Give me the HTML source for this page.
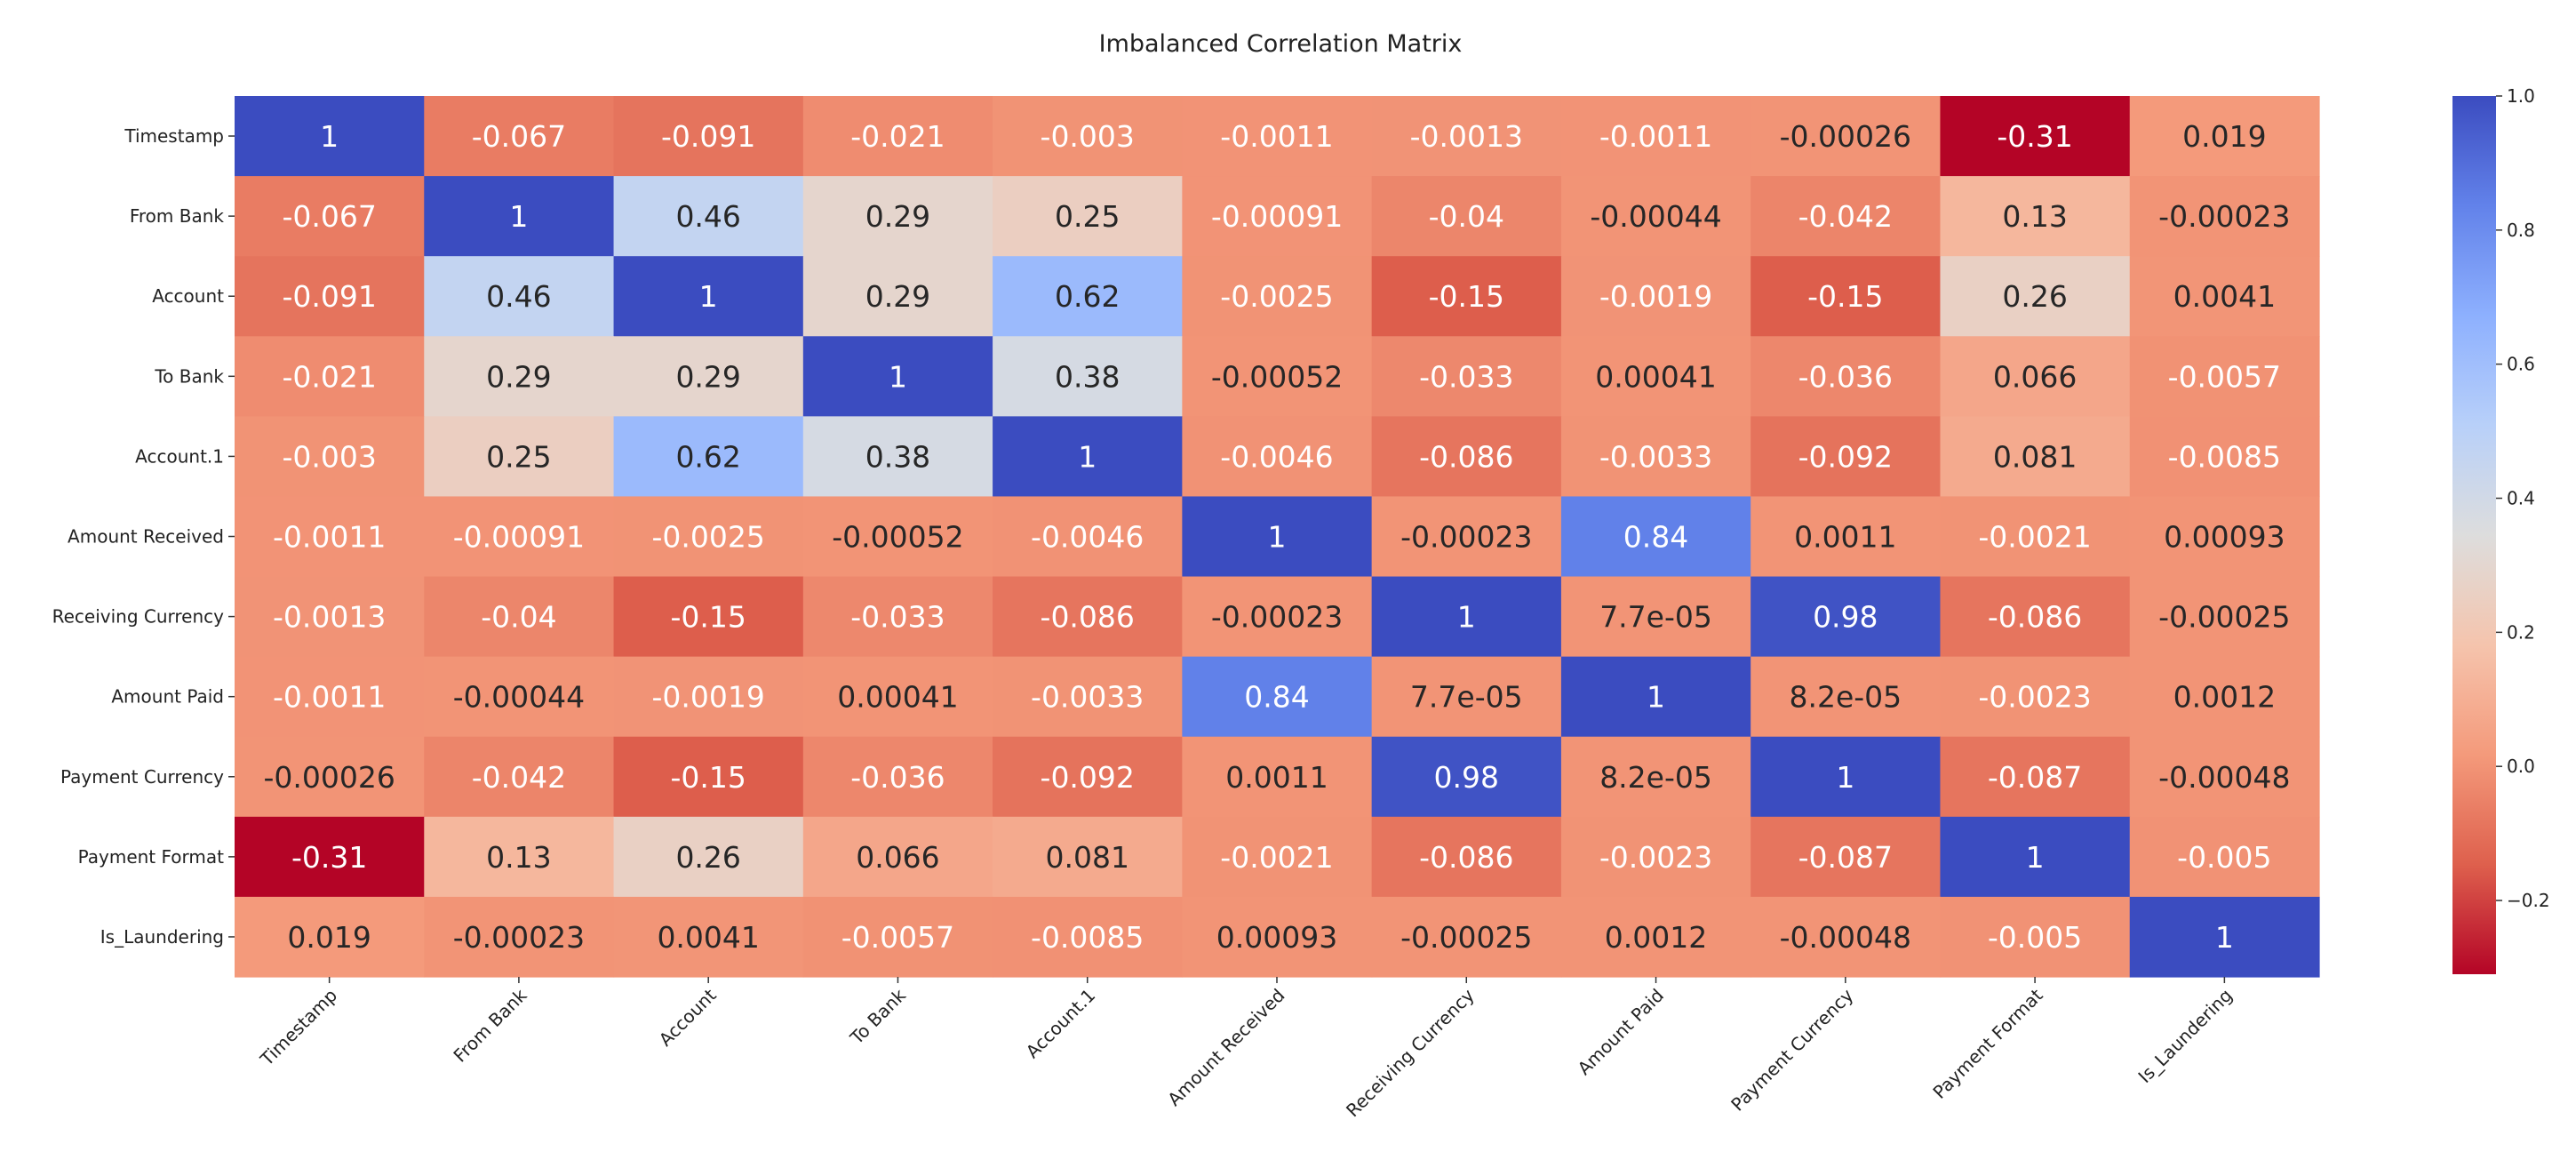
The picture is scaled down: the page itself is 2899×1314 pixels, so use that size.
<!DOCTYPE html>
<html><head><meta charset="utf-8"><style>
html,body{margin:0;padding:0;background:#fff;}
svg{display:block;font-family:"DejaVu Sans","Liberation Sans",sans-serif;}
</style></head><body>
<svg id="chart" width="2899" height="1314" viewBox="0 0 2899 1314">
<text x="1441" y="58" text-anchor="middle" font-size="27" fill="#222">Imbalanced Correlation Matrix</text>
<g id="cells"></g>
<g id="ylabels"></g>
<g id="xlabels"></g>
<defs><linearGradient id="cbgrad" x1="0" y1="1" x2="0" y2="0"></linearGradient></defs>
<rect id="cbar"></rect>
<g id="cbticks"></g>
</svg>
<script>
const categories = ["Timestamp","From Bank","Account","To Bank","Account.1","Amount Received","Receiving Currency","Amount Paid","Payment Currency","Payment Format","Is_Laundering"];
const row0 = [1,-0.067,-0.091,-0.021,-0.003,-0.0011,-0.0013,-0.0011,-0.00026,-0.31,0.019];
const row1 = [-0.067,1,0.46,0.29,0.25,-0.00091,-0.04,-0.00044,-0.042,0.13,-0.00023];
const row2 = [-0.091,0.46,1,0.29,0.62,-0.0025,-0.15,-0.0019,-0.15,0.26,0.0041];
const row3 = [-0.021,0.29,0.29,1,0.38,-0.00052,-0.033,0.00041,-0.036,0.066,-0.0057];
const row4 = [-0.003,0.25,0.62,0.38,1,-0.0046,-0.086,-0.0033,-0.092,0.081,-0.0085];
const row5 = [-0.0011,-0.00091,-0.0025,-0.00052,-0.0046,1,-0.00023,0.84,0.0011,-0.0021,0.00093];
const row6 = [-0.0013,-0.04,-0.15,-0.033,-0.086,-0.00023,1,7.7e-05,0.98,-0.086,-0.00025];
const row7 = [-0.0011,-0.00044,-0.0019,0.00041,-0.0033,0.84,7.7e-05,1,8.2e-05,-0.0023,0.0012];
const row8 = [-0.00026,-0.042,-0.15,-0.036,-0.092,0.0011,0.98,8.2e-05,1,-0.087,-0.00048];
const row9 = [-0.31,0.13,0.26,0.066,0.081,-0.0021,-0.086,-0.0023,-0.087,1,-0.005];
const row10 = [0.019,-0.00023,0.0041,-0.0057,-0.0085,0.00093,-0.00025,0.0012,-0.00048,-0.005,1];
const matrix = [row0,row1,row2,row3,row4,row5,row6,row7,row8,row9,row10];
const cbTickValues = [-0.2,0.0,0.2,0.4,0.6,0.8,1.0];
const cbTickLabels = ["\u22120.2","0.0","0.2","0.4","0.6","0.8","1.0"];
const vmin = -0.31, vmax = 1.0;

const NS = "http://www.w3.org/2000/svg";
const X0 = 264, X1 = 2610, Y0 = 108, Y1 = 1099;
const n = categories.length;
const cw = (X1 - X0) / n, ch = (Y1 - Y0) / n;
function xPos(i){ return X0 + i * cw; }
function yPos(i){ return Y0 + i * ch; }
const CB_X = 2760, CB_W = 49, CB_T = 108, CB_B = 1096;
function cbY(v){ return CB_B - (v - vmin) / (vmax - vmin) * (CB_B - CB_T); }

const cw_stops = [[59,76,192],[98,130,234],[141,176,254],[184,208,249],[221,221,221],[245,196,173],[244,154,123],[222,96,77],[180,4,38]];
function coolwarm(t){
  t = Math.max(0, Math.min(1, t));
  const p = t * 8, i = Math.min(7, Math.floor(p)), f = p - i;
  const a = cw_stops[i], b = cw_stops[i+1];
  return [0,1,2].map(k => Math.round(a[k] + (b[k]-a[k]) * f));
}
function colorFor(v){ return coolwarm(1 - (v - vmin) / (vmax - vmin)); }
function textColor(v){ return (v > -0.0007 && v < 0.7) ? "#262626" : "#ffffff"; }
function fmt(v){
  if (v === 1) return "1";
  if (Math.abs(v) < 1e-4) {
    const m = v.toExponential(1).split("e"); const e = parseInt(m[1]);
    return m[0] + "e" + (e<0?"-":"+") + String(Math.abs(e)).padStart(2,"0");
  }
  return Number(v.toPrecision(2)).toString();
}

const cells = document.getElementById("cells");
matrix.forEach((row, r) => {
  row.forEach((v, c) => {
    const col = colorFor(v);
    const rect = document.createElementNS(NS, "rect");
    rect.setAttribute("x", xPos(c)); rect.setAttribute("y", yPos(r));
    rect.setAttribute("width", cw + 0.6); rect.setAttribute("height", ch + 0.6);
    rect.setAttribute("fill", `rgb(${col})`);
    
    
    cells.appendChild(rect);
    const t = document.createElementNS(NS, "text");
    t.setAttribute("x", xPos(c) + cw/2); t.setAttribute("y", yPos(r) + ch/2 + 12);
    t.setAttribute("text-anchor", "middle"); t.setAttribute("font-size", "33");
    t.setAttribute("fill", textColor(v));
    t.textContent = fmt(v);
    
    
    cells.appendChild(t);
  });
});

const yl = document.getElementById("ylabels"), xl = document.getElementById("xlabels");
categories.forEach((name, i) => {
  const cy = yPos(i) + ch/2;
  const tk = document.createElementNS(NS, "line");
  tk.setAttribute("x1", X0 - 7); tk.setAttribute("x2", X0); tk.setAttribute("y1", cy); tk.setAttribute("y2", cy);
  tk.setAttribute("stroke", "#333"); tk.setAttribute("stroke-width", "1.5");
  
  
  yl.appendChild(tk);
  const t = document.createElementNS(NS, "text");
  t.setAttribute("x", X0 - 12); t.setAttribute("y", cy + 7);
  t.setAttribute("text-anchor", "end"); t.setAttribute("font-size", "20"); t.setAttribute("fill", "#222");
  t.textContent = name;
  
  
  yl.appendChild(t);

  const cx = xPos(i) + cw/2;
  const tx = document.createElementNS(NS, "line");
  tx.setAttribute("x1", cx); tx.setAttribute("x2", cx); tx.setAttribute("y1", Y1); tx.setAttribute("y2", Y1 + 7);
  tx.setAttribute("stroke", "#333"); tx.setAttribute("stroke-width", "1.5");
  
  
  xl.appendChild(tx);
  const s = document.createElementNS(NS, "text");
  const ax = cx + 10, ay = Y1 + 22;
  s.setAttribute("x", ax); s.setAttribute("y", ay);
  s.setAttribute("text-anchor", "end"); s.setAttribute("font-size", "20"); s.setAttribute("fill", "#222");
  s.setAttribute("transform", `rotate(-45 ${ax} ${ay})`);
  s.textContent = name;
  
  
  xl.appendChild(s);
});

const grad = document.getElementById("cbgrad");
for (let k = 0; k <= 16; k++) {
  const st = document.createElementNS(NS, "stop");
  st.setAttribute("offset", (k/16).toFixed(4));
  st.setAttribute("stop-color", `rgb(${coolwarm(1 - k/16)})`);
  grad.appendChild(st);
}
const cb = document.getElementById("cbar");
cb.setAttribute("x", CB_X); cb.setAttribute("y", CB_T); cb.setAttribute("width", CB_W); cb.setAttribute("height", CB_B - CB_T);
cb.setAttribute("fill", "url(#cbgrad)");
const cbt = document.getElementById("cbticks");
cbTickValues.forEach((v, i) => {
  const y = cbY(v);
  const l = document.createElementNS(NS, "line");
  l.setAttribute("x1", CB_X + CB_W); l.setAttribute("x2", CB_X + CB_W + 7); l.setAttribute("y1", y); l.setAttribute("y2", y);
  l.setAttribute("stroke", "#333"); l.setAttribute("stroke-width", "1.5");
  
  
  cbt.appendChild(l);
  const t = document.createElementNS(NS, "text");
  t.setAttribute("x", CB_X + CB_W + 12); t.setAttribute("y", y + 7);
  t.setAttribute("font-size", "20"); t.setAttribute("fill", "#222");
  t.textContent = cbTickLabels[i];
  
  
  cbt.appendChild(t);
});
</script>
</body></html>
